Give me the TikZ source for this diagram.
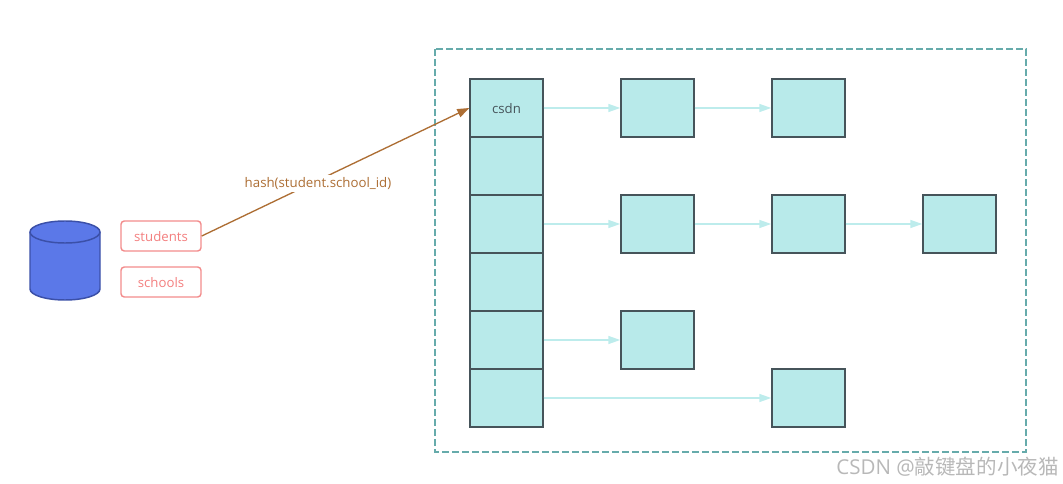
\documentclass[tikz,border=0pt]{standalone}
\usepackage{fontspec}
\setmainfont{Open Sans}
\newfontfamily\cjk{Noto Sans CJK SC}
\usetikzlibrary{arrows.meta}
\definecolor{cellfill}{HTML}{B8EAEA}
\definecolor{celldraw}{HTML}{46545A}
\definecolor{linkcol}{HTML}{BDECEC}
\definecolor{framecol}{HTML}{66ABAB}
\definecolor{tablecol}{HTML}{F28C8C}
\definecolor{hashcol}{HTML}{AD6E34}
\definecolor{dbfill}{HTML}{5B78E8}
\definecolor{dbdraw}{HTML}{3B50A8}
\tikzset{
  cell/.style={draw=celldraw,fill=cellfill,line width=1.1pt,minimum width=54.75pt,minimum height=43.5pt,inner sep=0pt,text=celldraw,text height=8.5pt,text depth=0pt,font=\fontsize{9.9}{12}\selectfont},
  tbl/.style={draw=tablecol,rounded corners=2.5pt,line width=1.1pt,minimum width=60pt,minimum height=22.5pt,inner sep=0pt,text=tablecol!90!red,text height=8.5pt,text depth=0pt,font=\fontsize{9.9}{12}\selectfont},
  link/.style={draw=linkcol,line width=1.1pt,-{Triangle[length=9pt,width=6pt]}},
}
\begin{document}
\begin{tikzpicture}[x=0.75pt,y=0.75pt,yscale=-1,xscale=1]
\useasboundingbox (0,0) rectangle (1063,484);

%Dashed frame
\draw [framecol,line width=1.1pt,dash pattern=on 5.5pt off 2pt] (435,49) rectangle (1026,452);

%Cylinder
\draw [dbdraw,fill=dbfill,line width=1.1pt] (30,232) -- (30,289) arc [start angle=180,end angle=0,x radius=35,y radius=11] -- (100,232) arc [start angle=0,end angle=-180,x radius=35,y radius=11] -- cycle;
\draw [dbdraw,line width=1.1pt] (30,232) arc [start angle=180,end angle=0,x radius=35,y radius=11];

% Tables
\node [tbl] (students) at (161,236) {students};
\node [tbl] (schools) at (161,282) {schools};

% Slots
\node [cell] (slot0) at (506.5,108) {csdn};
\node [cell] (slot1) at (506.5,166) {};
\node [cell] (slot2) at (506.5,224) {};
\node [cell] (slot3) at (506.5,282) {};
\node [cell] (slot4) at (506.5,340) {};
\node [cell] (slot5) at (506.5,398) {};

% Chained entries
\node [cell] (a1) at (657.5,108) {};
\node [cell] (a2) at (808.5,108) {};
\node [cell] (c1) at (657.5,224) {};
\node [cell] (c2) at (808.5,224) {};
\node [cell] (c3) at (959.5,224) {};
\node [cell] (e1) at (657.5,340) {};
\node [cell] (f2) at (808.5,398) {};

%Links
\draw [link] (slot0) -- (a1);
\draw [link] (a1) -- (a2);
\draw [link] (slot2) -- (c1);
\draw [link] (c1) -- (c2);
\draw [link] (c2) -- (c3);
\draw [link] (slot4) -- (e1);
\draw [link] (slot5) -- (f2);

%Hash arrow
\draw [hashcol,line width=1pt,-{Triangle[length=9pt,width=6.5pt]}] (students.east) -- (slot0.west);

% Text Node
\node [fill=white,text=hashcol,inner sep=1.5pt,font=\fontsize{9.95}{12}\selectfont] (hash) at (318,183.5) {hash(student.school\_id)};

% Watermark
\node [text=black!28,inner sep=0pt,font=\fontsize{15.4}{18}\selectfont] (mark) at (947.5,467) {CSDN @{\cjk 敲键盘的小夜猫}};
\end{tikzpicture}
\end{document}
